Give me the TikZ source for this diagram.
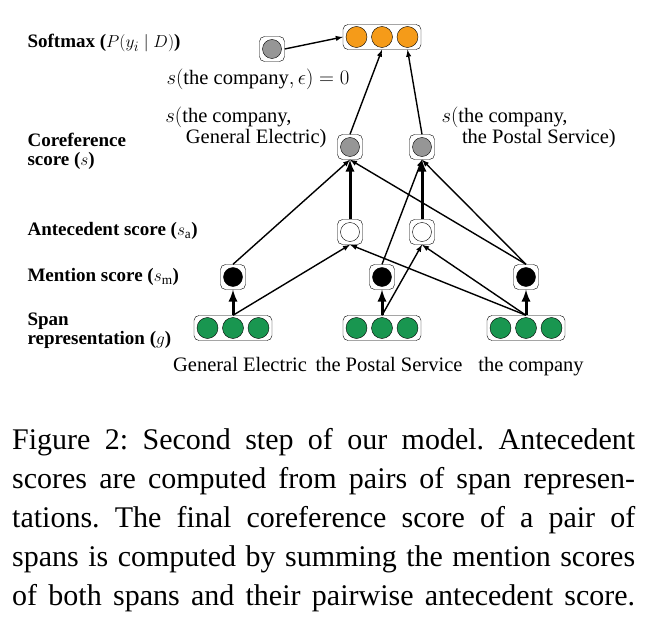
\documentclass[tikz,border=0pt]{standalone}
\usepackage{fontspec}
\setmainfont{Liberation Serif}
\usetikzlibrary{positioning,calc}

\definecolor{softorange}{RGB}{245,155,25}
\definecolor{spangreen}{RGB}{25,150,80}
\definecolor{scoregray}{RGB}{150,150,150}

\begin{document}
\frenchspacing
\begin{tikzpicture}[x=1pt, y=-1pt,
        unit/.style={draw, rounded corners=5pt, minimum size=25pt, inner sep=0pt,
            path picture={\draw[fill=#1] (path picture bounding box.center) circle (9.5pt);}},
        vec/.style={draw, rounded corners=5pt, minimum width=78pt, minimum height=25pt, inner sep=0pt,
            path picture={\foreach \dx in {-25.5,0,25.5}
                \draw[fill=#1] ($(path picture bounding box.center)+(\dx,0)$) circle (10.5pt);}},
        layer/.style={font=\fontsize{19}{19}\selectfont\bfseries, anchor=west, align=left},
        word/.style={font=\fontsize{20.5}{19}\selectfont},
        arr/.style={-latex, line width=1.4pt},
        bold arr/.style={-latex, line width=3pt},
    ]
    \useasboundingbox (0,0) rectangle (649,634);

    % layer labels
    \node[layer] (lsoft) at (24,43) {Softmax ($P(y_i\mid D)$)};
    \node[layer] (lcoref) at (24,151) {Coreference\\score ($s$)};
    \node[layer] (lante) at (24,231) {Antecedent score ($s_\mathrm{a}$)};
    \node[layer] (lment) at (24,277) {Mention score ($s_\mathrm{m}$)};
    \node[layer] (lspan) at (24,331) {Span\\representation ($g$)};

    % spans and mentions
    \node[vec=spangreen] (gGE) at (233,328) {};
    \node[vec=spangreen] (gPS) at (382,328) {};
    \node[vec=spangreen] (gTC) at (526,328) {};
    \node[unit=black] (mGE) at (233,277) {};
    \node[unit=black] (mPS) at (382,277) {};
    \node[unit=black] (mTC) at (526,277) {};
    \node[word, anchor=base] (wGE) at (240,371) {General Electric};
    \node[word, anchor=base] (wPS) at (389,371) {the Postal Service};
    \node[word, anchor=base] (wTC) at (531,371) {the company};

    % antecedent and coreference scores
    \node[unit=white] (aGE) at (350,232) {};
    \node[unit=white] (aPS) at (422,232) {};
    \node[unit=scoregray] (cGE) at (350,147) {};
    \node[unit=scoregray] (cPS) at (422,147) {};
    \node[unit=scoregray] (eps) at (272,49) {};
    \node[vec=softorange] (soft) at (382,37) {};

    \node[word, anchor=south east, align=left] (tGE) at (330,151) {$s($the company,\\\quad General Electric)};
    \node[word, anchor=south west, align=left] (tPS) at (438,151) {$s($the company,\\\quad the Postal Service)};
    \node[word] (teps) at (258,79) {$s($the company$,\epsilon)=0$};

    % connectors
    \draw[bold arr] (gGE.north) -- (mGE);
    \draw[bold arr] (gPS.north) -- (mPS);
    \draw[bold arr] (gTC.north) -- (mTC);
    \draw[arr] (gGE.north) -- (aGE.south);
    \draw[arr] (gTC.north) -- (aGE.south);
    \draw[arr] (gPS.north) -- (aPS.south);
    \draw[arr] (gTC.north) -- (aPS.south);
    \draw[arr] (mGE.north) -- (cGE.south);
    \draw[arr] (mTC.north) -- (cGE.south);
    \draw[arr] (mPS.north) -- (cPS.south);
    \draw[arr] (mTC.north) -- (cPS.south);
    \draw[bold arr] (aGE) -- (cGE);
    \draw[bold arr] (aPS) -- (cPS);
    \draw[arr] (cGE.north) -- (soft.south);
    \draw[arr] (cPS.north) -- ([xshift=25.5pt]soft.south);
    \draw[arr] (eps.east) -- (soft.west);

    % caption
    \node[anchor=north west, inner sep=0pt, font=\fontsize{30}{39}\selectfont, align=left] (caption) at (12,428) {%
        \makebox[623pt][s]{Figure 2: Second step of our model. Antecedent}\\
        \makebox[623pt][s]{scores are computed from pairs of span represen-}\\
        \makebox[623pt][s]{tations. The final coreference score of a pair of}\\
        \makebox[623pt][s]{spans is computed by summing the mention scores}\\
        \makebox[623pt][s]{of both spans and their pairwise antecedent score.}};
\end{tikzpicture}
\end{document}
